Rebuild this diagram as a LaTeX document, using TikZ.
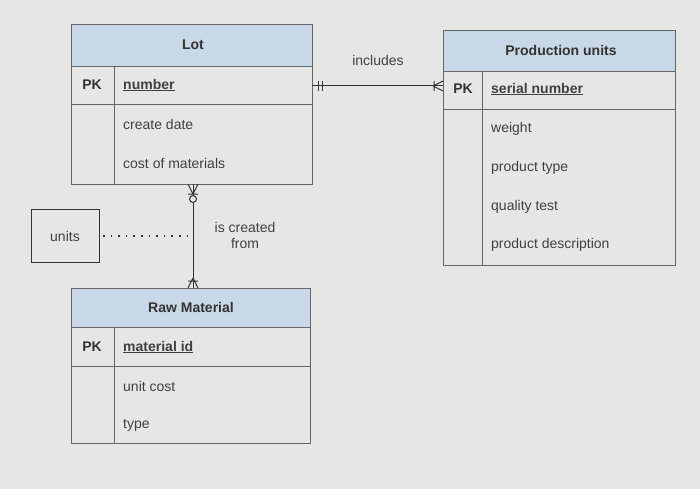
\documentclass[tikz,border=0pt]{standalone}
\usepackage{fontspec}
\setmainfont{Liberation Sans}
\definecolor{hdrc}{RGB}{200,216,230}
\definecolor{bgc}{RGB}{230,230,228}
\begin{document}
\begin{tikzpicture}[x=1pt,y=-1pt,
  ln/.style={draw=black!60,line width=0.9pt},
  hdr/.style={ln,fill=hdrc},
  tx/.style={font=\fontsize{14}{16}\selectfont,text=black!75,anchor=west,inner sep=0pt},
  hx/.style={font=\bfseries\fontsize{14}{16}\selectfont,text=black!80,inner sep=0pt},
  conn/.style={draw=black!80,line width=1pt}]
\fill[bgc] (0,0) rectangle (700,489);
\useasboundingbox (0,0) rectangle (700,489);
% Lot
\draw[hdr] (71,24) rectangle (312,66);
\draw[ln] (71,66) rectangle (312,184);
\draw[ln] (71,104) -- (312,104);
\draw[ln] (114,66) -- (114,184);
\node[hx] (lot) at (193,45) {Lot};
\node[hx] at (92,85) {PK};
\node[tx,font=\bfseries\fontsize{14}{16}\selectfont] (lotpk) at (123,85) {\underline{number}};
\node[tx] at (123,124) {create date};
\node[tx] at (123,163) {cost of materials};
% Production units
\draw[hdr] (443,30) rectangle (675,71);
\draw[ln] (443,71) rectangle (675,265);
\draw[ln] (443,109) -- (675,109);
\draw[ln] (482,71) -- (482,265);
\node[hx] (pu) at (561,50) {Production units};
\node[hx] at (463,89) {PK};
\node[tx,font=\bfseries\fontsize{14}{16}\selectfont] at (491,89) {\underline{serial number}};
\node[tx] at (491,129) {weight};
\node[tx] at (491,168) {product type};
\node[tx] at (491,207) {quality test};
\node[tx] at (491,245) {product description};
% Raw Material
\draw[hdr] (71,288) rectangle (310,327);
\draw[ln] (71,327) rectangle (310,443);
\draw[ln] (71,366) -- (310,366);
\draw[ln] (114,327) -- (114,443);
\node[hx] (rm) at (191,307) {Raw Material};
\node[hx] at (92,347) {PK};
\node[tx,font=\bfseries\fontsize{14}{16}\selectfont] at (123,347) {\underline{material id}};
\node[tx] at (123,386) {unit cost};
\node[tx] at (123,425) {type};
% units
\draw[ln,draw=black!80] (31,209) rectangle (99,262);
\node[tx,anchor=center] (units) at (65,236) {units};
% coordinates
\coordinate (a1) at (312,86);
\coordinate (a2) at (443,86);
\coordinate (b1) at (193,184);
\coordinate (b2) at (193,288);
\coordinate (u1) at (103,236);
\coordinate (u2) at (193,236);
% includes
\draw[conn] (a1) -- (a2);
\draw[conn] (318,81) -- (318,91) (322,81) -- (322,91);
\draw[conn] (433,86) -- (443,81) (433,86) -- (443,91) (434,81) -- (434,91);
\node[tx,anchor=center] at (378,60) {includes};
% created from
\draw[conn] (b1) -- (b2);
\draw[conn] (193,194) -- (188,184) (193,194) -- (198,184) (188,194)--(198,194);
\draw[conn,fill=bgc] (193,199) circle (3.5);
\draw[conn] (193,278) -- (188,288) (193,278) -- (198,288) (188,281)--(198,281);
\draw[conn,line width=1.6pt,dash pattern=on 1.6pt off 6pt] (u1) -- (u2);
\node[tx,anchor=center,align=center] at (245,235) {is created\\from};
\end{tikzpicture}
\end{document}
